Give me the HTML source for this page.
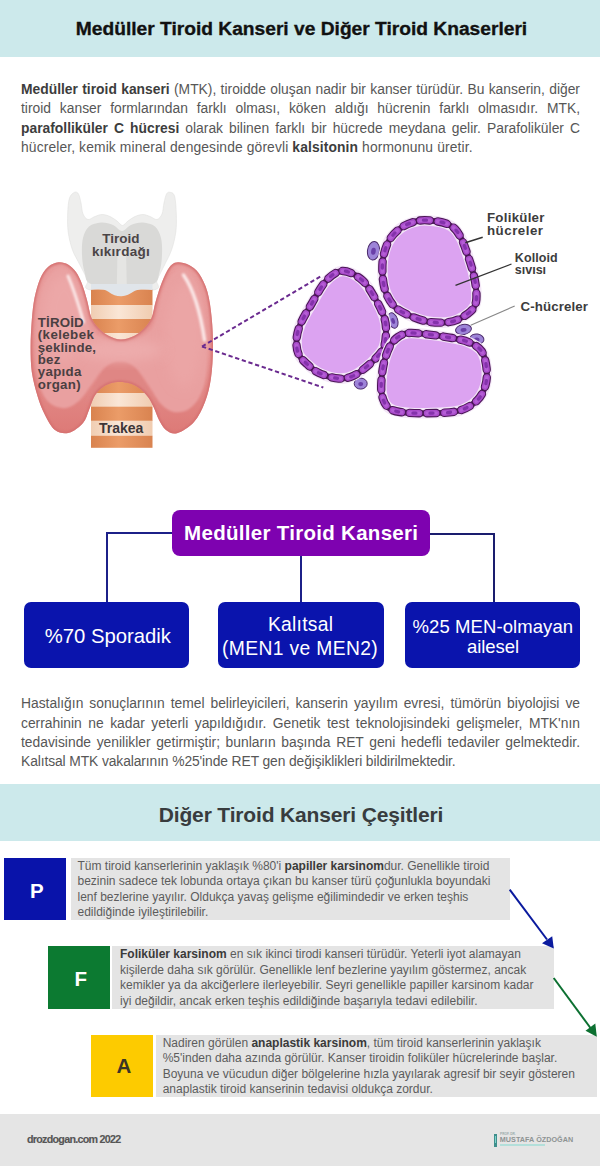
<!DOCTYPE html>
<html><head><meta charset="utf-8">
<style>
*{margin:0;padding:0;box-sizing:border-box}
html,body{width:600px;height:1166px;overflow:hidden;background:#fff}
body{position:relative;font-family:"Liberation Sans",sans-serif;color:#555}
.abs{position:absolute}
.band{position:absolute;left:0;width:600px;background:#cce9eb}
.h1{position:absolute;left:0;width:600px;text-align:center;font-weight:bold;white-space:nowrap}
.para{position:absolute;left:21px;width:559px;font-size:13.85px;color:#575757}
.para .l{display:block;height:19.35px;line-height:19.35px;white-space:nowrap;text-align:justify;text-align-last:justify}
.para .l.last{text-align-last:left}
.para b{color:#3d3d3d}
.box{position:absolute;color:#fff;text-align:center}
.lbl{position:absolute;color:#fff;line-height:1;white-space:nowrap}
.purple{background:#7e02b0;border-radius:8px;font-weight:bold}
.blue{background:#0a14ad;border-radius:7px}
.line{position:absolute;background:#1c2088}
.letter{position:absolute;color:#fff;font-weight:bold;font-size:20.5px;text-align:center}
.gbox{position:absolute;background:#e4e4e4}
.gtxt{position:absolute;font-size:12px;color:#5c5c5c}
.gtxt .l{display:block;height:15.4px;line-height:15.4px;white-space:nowrap}
.gtxt b{color:#3a3a3a}
</style></head>
<body>
<div class="band" style="top:0;height:57px"></div>
<div class="h1" style="top:16.9px;font-size:19.2px;color:#111;line-height:24px;left:1.5px;-webkit-text-stroke:0.35px #111">Medüller Tiroid Kanseri ve Diğer Tiroid Knaserleri</div>

<div class="para" style="top:79.93px">
<span class="l"><b>Medüller tiroid kanseri</b> (MTK), tiroidde oluşan nadir bir kanser türüdür. Bu kanserin, diğer</span>
<span class="l">tiroid kanser formlarından farklı olması, köken aldığı hücrenin farklı olmasıdır. MTK,</span>
<span class="l"><b>parafolliküler C hücresi</b> olarak bilinen farklı bir hücrede meydana gelir. Parafoliküler C</span>
<span class="l last" style="letter-spacing:0.118px">hücreler, kemik mineral dengesinde görevli <b>kalsitonin</b> hormonunu üretir.</span>
</div>

<!-- ILLUSTRATION -->
<svg class="abs" style="left:0;top:170px" width="600" height="300" viewBox="0 170 600 300" id="ill">
<defs>
<linearGradient id="trg" x1="0" x2="1" y1="0" y2="0">
<stop offset="0" stop-color="#d9834f"/><stop offset="0.45" stop-color="#eb9c68"/><stop offset="1" stop-color="#d98350"/></linearGradient>
<linearGradient id="trc" x1="0" x2="1" y1="0" y2="0">
<stop offset="0" stop-color="#f0cdb2"/><stop offset="0.45" stop-color="#fae6d6"/><stop offset="1" stop-color="#f0ccb0"/></linearGradient>
<radialGradient id="lobeL" cx="0.6" cy="0.45" r="0.6">
<stop offset="0" stop-color="#eea6a9"/><stop offset="0.7" stop-color="#e99a9d"/><stop offset="1" stop-color="#dc7d82"/></radialGradient>
<radialGradient id="lobeR" cx="0.4" cy="0.45" r="0.6">
<stop offset="0" stop-color="#eea6a9"/><stop offset="0.7" stop-color="#e99a9d"/><stop offset="1" stop-color="#dc7d82"/></radialGradient>
<filter id="bl" x="-20%" y="-20%" width="140%" height="140%"><feGaussianBlur stdDeviation="2.2"/></filter>
<filter id="bl1" x="-20%" y="-20%" width="140%" height="140%"><feGaussianBlur stdDeviation="0.8"/></filter>
<filter id="bl2" x="-20%" y="-20%" width="140%" height="140%"><feGaussianBlur stdDeviation="1.1"/></filter>
<filter id="bl3" x="-30%" y="-30%" width="160%" height="160%"><feGaussianBlur stdDeviation="3"/></filter>
<filter id="bl5" x="-40%" y="-40%" width="180%" height="180%"><feGaussianBlur stdDeviation="6"/></filter>
</defs>
<path d="M74.6,192.3 C76.1,191.6 77.4,192.2 78.5,194.0 C79.6,195.8 80.2,199.7 81.0,203.0 C81.8,206.3 81.8,211.2 83.0,214.0 C84.2,216.8 86.0,219.1 88.0,219.5 C90.0,219.9 92.7,217.3 95.0,216.5 C97.3,215.7 99.5,214.5 102.0,214.5 C104.5,214.5 107.5,215.4 110.0,216.5 C112.5,217.6 114.9,219.5 117.0,221.0 C119.1,222.5 120.7,225.5 122.5,225.5 C124.3,225.5 125.9,222.5 128.0,221.0 C130.1,219.5 132.5,217.6 135.0,216.5 C137.5,215.4 140.5,214.5 143.0,214.5 C145.5,214.5 147.7,215.7 150.0,216.5 C152.3,217.3 155.0,219.9 157.0,219.5 C159.0,219.1 160.8,216.8 162.0,214.0 C163.2,211.2 163.2,206.3 164.0,203.0 C164.8,199.7 165.5,195.8 166.5,194.0 C167.5,192.2 168.7,192.0 170.0,192.3 C171.3,192.6 173.4,192.4 174.5,196.0 C175.6,199.6 176.1,208.0 176.3,214.0 C176.5,220.0 176.6,226.0 175.8,232.0 C175.0,238.0 173.4,244.5 171.5,250.0 C169.6,255.5 166.9,260.0 164.5,265.0 C162.1,270.0 158.9,275.8 157.0,280.0 C155.1,284.2 164.0,288.3 153.0,290.0 C142.0,291.7 101.9,291.7 91.0,290.0 C80.1,288.3 89.3,284.2 87.5,280.0 C85.7,275.8 82.5,270.0 80.0,265.0 C77.5,260.0 74.5,255.5 72.5,250.0 C70.5,244.5 69.0,238.0 68.2,232.0 C67.4,226.0 67.5,219.7 67.7,214.0 C67.9,208.3 68.3,201.6 69.5,198.0 C70.7,194.4 73.1,193.0 74.6,192.3Z" fill="#eeeeed" stroke="#e0e0df" stroke-width="0.6"/>
<path d="M122.0,231.0 C119.0,231.0 116.5,226.4 113.0,225.0 C109.5,223.6 105.0,222.2 101.0,222.5 C97.0,222.8 92.0,223.9 89.0,226.5 C86.0,229.1 84.2,233.2 83.0,238.0 C81.8,242.8 81.8,249.3 82.0,255.0 C82.2,260.7 83.0,267.2 84.5,272.0 C86.0,276.8 84.8,281.7 91.0,284.0 C97.2,286.3 111.7,286.0 122.0,286.0 C132.3,286.0 146.8,286.3 153.0,284.0 C159.2,281.7 158.0,276.8 159.5,272.0 C161.0,267.2 161.8,260.7 162.0,255.0 C162.2,249.3 162.2,242.8 161.0,238.0 C159.8,233.2 158.0,229.1 155.0,226.5 C152.0,223.9 147.0,222.8 143.0,222.5 C139.0,222.2 134.5,223.6 131.0,225.0 C127.5,226.4 125.0,231.0 122.0,231.0Z" fill="#d9d9d7"/>
<path d="M117.5,250 L126,250 L126.8,287 L116.8,287Z" fill="#e5e5e3"/>
<rect x="91" y="289.5" width="61.5" height="15.8" fill="url(#trg)"/>
<rect x="91" y="305" width="61.5" height="14.3" fill="url(#trc)"/>
<rect x="91" y="319" width="61.5" height="14.3" fill="url(#trg)"/>
<rect x="91" y="333" width="61.5" height="13.3" fill="url(#trc)"/>
<rect x="91" y="346" width="61.5" height="36.3" fill="url(#trg)"/>
<rect x="91" y="382" width="61.5" height="11.3" fill="url(#trg)"/>
<rect x="91" y="393" width="61.5" height="14.0" fill="url(#trc)"/>
<rect x="91" y="406.7" width="61.5" height="14.3" fill="url(#trg)"/>
<rect x="91" y="420.7" width="61.5" height="15.4" fill="url(#trc)"/>
<rect x="91" y="435.8" width="61.5" height="12.0" fill="url(#trg)"/>
<path d="M91,289.8 C97,288.5 103,288.5 108,291.5 C113,295 117,296.5 121.5,296.3 C126,296.2 130,294 134.5,291 C139,288.5 146,289 152.5,290 L152.5,284 L91,284Z" fill="#e0e5ea"/>
<linearGradient id="silg" x1="0" x2="0" y1="262" y2="433" gradientUnits="userSpaceOnUse"><stop offset="0" stop-color="#e89c9c"/><stop offset="0.5" stop-color="#e69594"/><stop offset="1" stop-color="#dd7a77"/></linearGradient>
<path d="M58.5,262.3 C61.8,261.9 65.1,262.9 68.0,264.5 C70.9,266.1 73.7,268.8 76.0,272.0 C78.3,275.2 80.2,279.3 82.0,284.0 C83.8,288.7 85.4,294.3 87.0,300.0 C88.6,305.7 89.5,313.2 91.5,318.0 C93.5,322.8 96.1,325.5 99.0,328.5 C101.9,331.5 105.3,334.2 109.0,336.0 C112.7,337.8 116.8,339.5 121.0,339.5 C125.2,339.5 130.2,337.8 134.0,336.0 C137.8,334.2 141.1,331.5 144.0,328.5 C146.9,325.5 149.6,322.4 151.5,318.0 C153.4,313.6 154.0,307.3 155.5,302.0 C157.0,296.7 158.7,291.0 160.5,286.0 C162.3,281.0 164.6,275.6 166.5,272.0 C168.4,268.4 170.0,266.1 172.0,264.5 C174.0,262.9 175.7,262.2 178.5,262.3 C181.3,262.4 185.6,263.1 189.0,265.0 C192.4,266.9 195.9,269.0 199.0,273.5 C202.1,278.0 205.4,284.6 207.5,292.0 C209.6,299.4 210.8,308.7 211.7,318.0 C212.6,327.3 213.1,338.0 213.0,348.0 C212.9,358.0 212.3,369.0 211.0,378.0 C209.7,387.0 207.8,394.7 205.0,402.0 C202.2,409.3 198.7,416.8 194.0,422.0 C189.3,427.2 181.7,431.9 177.0,433.2 C172.3,434.5 169.0,432.2 166.0,430.0 C163.0,427.8 161.0,423.7 159.0,420.0 C157.0,416.3 155.8,411.8 154.0,408.0 C152.2,404.2 150.5,400.3 148.0,397.0 C145.5,393.7 142.0,390.2 139.0,388.0 C136.0,385.8 133.2,384.5 130.0,383.5 C126.8,382.5 123.3,382.0 120.0,382.0 C116.7,382.0 113.2,382.4 110.0,383.5 C106.8,384.6 103.7,386.2 101.0,388.5 C98.3,390.8 96.0,393.4 94.0,397.0 C92.0,400.6 90.8,405.7 89.0,410.0 C87.2,414.3 86.3,419.2 83.0,423.0 C79.7,426.8 73.7,431.6 69.0,432.8 C64.3,434.0 59.1,433.1 55.0,430.0 C50.9,426.9 47.4,419.7 44.5,414.0 C41.6,408.3 39.6,403.0 37.5,396.0 C35.4,389.0 33.0,380.2 31.8,372.0 C30.7,363.8 30.6,355.7 30.6,347.0 C30.6,338.3 31.2,328.2 31.8,320.0 C32.5,311.8 33.1,304.8 34.5,298.0 C35.9,291.2 37.8,284.2 40.0,279.0 C42.2,273.8 44.9,269.8 48.0,267.0 C51.1,264.2 55.2,262.7 58.5,262.3Z" fill="url(#silg)"/>
<clipPath id="silc"><path d="M58.5,262.3 C61.8,261.9 65.1,262.9 68.0,264.5 C70.9,266.1 73.7,268.8 76.0,272.0 C78.3,275.2 80.2,279.3 82.0,284.0 C83.8,288.7 85.4,294.3 87.0,300.0 C88.6,305.7 89.5,313.2 91.5,318.0 C93.5,322.8 96.1,325.5 99.0,328.5 C101.9,331.5 105.3,334.2 109.0,336.0 C112.7,337.8 116.8,339.5 121.0,339.5 C125.2,339.5 130.2,337.8 134.0,336.0 C137.8,334.2 141.1,331.5 144.0,328.5 C146.9,325.5 149.6,322.4 151.5,318.0 C153.4,313.6 154.0,307.3 155.5,302.0 C157.0,296.7 158.7,291.0 160.5,286.0 C162.3,281.0 164.6,275.6 166.5,272.0 C168.4,268.4 170.0,266.1 172.0,264.5 C174.0,262.9 175.7,262.2 178.5,262.3 C181.3,262.4 185.6,263.1 189.0,265.0 C192.4,266.9 195.9,269.0 199.0,273.5 C202.1,278.0 205.4,284.6 207.5,292.0 C209.6,299.4 210.8,308.7 211.7,318.0 C212.6,327.3 213.1,338.0 213.0,348.0 C212.9,358.0 212.3,369.0 211.0,378.0 C209.7,387.0 207.8,394.7 205.0,402.0 C202.2,409.3 198.7,416.8 194.0,422.0 C189.3,427.2 181.7,431.9 177.0,433.2 C172.3,434.5 169.0,432.2 166.0,430.0 C163.0,427.8 161.0,423.7 159.0,420.0 C157.0,416.3 155.8,411.8 154.0,408.0 C152.2,404.2 150.5,400.3 148.0,397.0 C145.5,393.7 142.0,390.2 139.0,388.0 C136.0,385.8 133.2,384.5 130.0,383.5 C126.8,382.5 123.3,382.0 120.0,382.0 C116.7,382.0 113.2,382.4 110.0,383.5 C106.8,384.6 103.7,386.2 101.0,388.5 C98.3,390.8 96.0,393.4 94.0,397.0 C92.0,400.6 90.8,405.7 89.0,410.0 C87.2,414.3 86.3,419.2 83.0,423.0 C79.7,426.8 73.7,431.6 69.0,432.8 C64.3,434.0 59.1,433.1 55.0,430.0 C50.9,426.9 47.4,419.7 44.5,414.0 C41.6,408.3 39.6,403.0 37.5,396.0 C35.4,389.0 33.0,380.2 31.8,372.0 C30.7,363.8 30.6,355.7 30.6,347.0 C30.6,338.3 31.2,328.2 31.8,320.0 C32.5,311.8 33.1,304.8 34.5,298.0 C35.9,291.2 37.8,284.2 40.0,279.0 C42.2,273.8 44.9,269.8 48.0,267.0 C51.1,264.2 55.2,262.7 58.5,262.3Z"/></clipPath>
<g clip-path="url(#silc)">
<path d="M86,404 Q104,358 120,358 Q136,358 156,404 Q138,383 120,382 Q103,383 86,404Z" fill="#df8684" filter="url(#bl1)"/>
<path d="M58.0,268.0 C61.7,266.5 65.2,269.0 68.0,271.0 C70.8,273.0 73.0,276.2 75.0,280.0 C77.0,283.8 78.5,288.7 80.0,294.0 C81.5,299.3 82.3,306.3 84.0,312.0 C85.7,317.7 86.5,323.3 90.0,328.0 C93.5,332.7 99.8,337.2 105.0,340.0 C110.2,342.8 115.7,345.0 121.0,345.0 C126.3,345.0 131.8,342.8 137.0,340.0 C142.2,337.2 148.5,332.7 152.0,328.0 C155.5,323.3 156.3,317.7 158.0,312.0 C159.7,306.3 160.3,299.3 162.0,294.0 C163.7,288.7 165.8,283.8 168.0,280.0 C170.2,276.2 172.3,273.0 175.0,271.0 C177.7,269.0 181.0,267.2 184.0,268.0 C187.0,268.8 190.3,272.0 193.0,276.0 C195.7,280.0 198.0,285.0 200.0,292.0 C202.0,299.0 203.8,308.7 205.0,318.0 C206.2,327.3 207.3,338.3 207.5,348.0 C207.7,357.7 207.2,368.0 206.0,376.0 C204.8,384.0 202.8,390.5 200.0,396.0 C197.2,401.5 193.3,406.3 189.0,409.0 C184.7,411.7 178.7,412.8 174.0,412.0 C169.3,411.2 165.2,408.3 161.0,404.0 C156.8,399.7 153.3,392.2 149.0,386.0 C144.7,379.8 139.8,371.1 135.0,367.0 C130.2,362.9 125.0,361.5 120.0,361.5 C115.0,361.5 109.7,363.2 105.0,367.0 C100.3,370.8 96.2,378.5 92.0,384.0 C87.8,389.5 84.3,396.0 80.0,400.0 C75.7,404.0 70.8,407.3 66.0,408.0 C61.2,408.7 55.0,406.7 51.0,404.0 C47.0,401.3 44.4,397.7 42.0,392.0 C39.6,386.3 37.6,377.5 36.5,370.0 C35.4,362.5 35.4,355.3 35.5,347.0 C35.6,338.7 36.2,328.2 37.0,320.0 C37.8,311.8 38.5,304.7 40.0,298.0 C41.5,291.3 43.0,285.0 46.0,280.0 C49.0,275.0 54.3,269.5 58.0,268.0Z" fill="#e9a0a0" filter="url(#bl2)"/>
<ellipse cx="64" cy="318" rx="22" ry="44" fill="#eca7a7" filter="url(#bl5)"/>
<ellipse cx="184" cy="335" rx="19" ry="52" fill="#eba5a5" filter="url(#bl5)"/>
<ellipse cx="121" cy="350" rx="42" ry="11" fill="#edacac" filter="url(#bl5)"/>
<path d="M58.5,262.3 C61.8,261.9 65.1,262.9 68.0,264.5 C70.9,266.1 73.7,268.8 76.0,272.0 C78.3,275.2 80.2,279.3 82.0,284.0 C83.8,288.7 85.4,294.3 87.0,300.0 C88.6,305.7 89.5,313.2 91.5,318.0 C93.5,322.8 96.1,325.5 99.0,328.5 C101.9,331.5 105.3,334.2 109.0,336.0 C112.7,337.8 116.8,339.5 121.0,339.5 C125.2,339.5 130.2,337.8 134.0,336.0 C137.8,334.2 141.1,331.5 144.0,328.5 C146.9,325.5 149.6,322.4 151.5,318.0 C153.4,313.6 154.0,307.3 155.5,302.0 C157.0,296.7 158.7,291.0 160.5,286.0 C162.3,281.0 164.6,275.6 166.5,272.0 C168.4,268.4 170.0,266.1 172.0,264.5 C174.0,262.9 175.7,262.2 178.5,262.3 C181.3,262.4 185.6,263.1 189.0,265.0 C192.4,266.9 195.9,269.0 199.0,273.5 C202.1,278.0 205.4,284.6 207.5,292.0 C209.6,299.4 210.8,308.7 211.7,318.0 C212.6,327.3 213.1,338.0 213.0,348.0 C212.9,358.0 212.3,369.0 211.0,378.0 C209.7,387.0 207.8,394.7 205.0,402.0 C202.2,409.3 198.7,416.8 194.0,422.0 C189.3,427.2 181.7,431.9 177.0,433.2 C172.3,434.5 169.0,432.2 166.0,430.0 C163.0,427.8 161.0,423.7 159.0,420.0 C157.0,416.3 155.8,411.8 154.0,408.0 C152.2,404.2 150.5,400.3 148.0,397.0 C145.5,393.7 142.0,390.2 139.0,388.0 C136.0,385.8 133.2,384.5 130.0,383.5 C126.8,382.5 123.3,382.0 120.0,382.0 C116.7,382.0 113.2,382.4 110.0,383.5 C106.8,384.6 103.7,386.2 101.0,388.5 C98.3,390.8 96.0,393.4 94.0,397.0 C92.0,400.6 90.8,405.7 89.0,410.0 C87.2,414.3 86.3,419.2 83.0,423.0 C79.7,426.8 73.7,431.6 69.0,432.8 C64.3,434.0 59.1,433.1 55.0,430.0 C50.9,426.9 47.4,419.7 44.5,414.0 C41.6,408.3 39.6,403.0 37.5,396.0 C35.4,389.0 33.0,380.2 31.8,372.0 C30.7,363.8 30.6,355.7 30.6,347.0 C30.6,338.3 31.2,328.2 31.8,320.0 C32.5,311.8 33.1,304.8 34.5,298.0 C35.9,291.2 37.8,284.2 40.0,279.0 C42.2,273.8 44.9,269.8 48.0,267.0 C51.1,264.2 55.2,262.7 58.5,262.3Z" fill="none" stroke="#d5706f" stroke-width="3.2" filter="url(#bl1)"/>
</g>
<path d="M68,276 Q75,292 83.5,322" stroke="#fbe8e8" stroke-width="3" fill="none" stroke-linecap="round" filter="url(#bl1)"/>
<path d="M183.5,275 Q198,296 204.5,340" stroke="#fbe8e8" stroke-width="3.4" fill="none" stroke-linecap="round" filter="url(#bl1)"/>
<text x="120.8" y="242.8" text-anchor="middle" style="font-family:&quot;Liberation Sans&quot;,sans-serif;font-weight:bold;fill:#4a4446;font-size:13.5px">Tiroid</text>
<text x="121" y="255.7" text-anchor="middle" style="font-family:&quot;Liberation Sans&quot;,sans-serif;font-weight:bold;fill:#4a4446;font-size:13.5px;letter-spacing:0.3px">kıkırdağı</text>
<g style="font-family:&quot;Liberation Sans&quot;,sans-serif;font-weight:bold;fill:#4a4446;font-size:13.3px;fill:#4a3f42">
<text x="37.8" y="326.6" style="letter-spacing:0.15px">TİROİD</text>
<text x="37.8" y="339.1" style="letter-spacing:0.4px">(kelebek</text>
<text x="37.8" y="351.5" style="letter-spacing:0.15px">şeklinde,</text>
<text x="37.8" y="364.0" style="letter-spacing:0.2px">bez</text>
<text x="37.8" y="376.4" style="letter-spacing:0.3px">yapıda</text>
<text x="37.8" y="388.9" style="letter-spacing:0.3px">organ)</text>
</g>
<text x="121.2" y="432.8" text-anchor="middle" style="font-family:&quot;Liberation Sans&quot;,sans-serif;font-weight:bold;fill:#4a4446;font-size:14px;fill:#3d3638">Trakea</text>
<path d="M202,346.5 L322.5,275.3 M202,346.5 L323.3,387.5" stroke="#6a2a8f" stroke-width="2" stroke-dasharray="4.3 2.7" fill="none"/>
<g transform="translate(373.5,250.8) rotate(8)"><ellipse rx="6" ry="9.3" fill="#9d84d8" stroke="#4a2a6a" stroke-width="1"/><ellipse cx="0" cy="0.5" rx="2.3" ry="3.5" fill="#6a3fa8"/></g>
<g transform="translate(393,320.5) rotate(-18)"><ellipse rx="4.7" ry="8" fill="#9d84d8" stroke="#4a2a6a" stroke-width="1"/><ellipse cx="0" cy="0.5" rx="1.8" ry="3.0" fill="#6a3fa8"/></g>
<g transform="translate(463.5,329.5) rotate(-10)"><ellipse rx="8" ry="5" fill="#9d84d8" stroke="#4a2a6a" stroke-width="1"/><ellipse cx="0" cy="0.5" rx="3.0" ry="1.9" fill="#6a3fa8"/></g>
<g transform="translate(477,339) rotate(10)"><ellipse rx="7" ry="5" fill="#9d84d8" stroke="#4a2a6a" stroke-width="1"/><ellipse cx="0" cy="0.5" rx="2.7" ry="1.9" fill="#6a3fa8"/></g>
<g transform="translate(360.7,383.6) rotate(0)"><ellipse rx="6.5" ry="5.5" fill="#9d84d8" stroke="#4a2a6a" stroke-width="1"/><ellipse cx="0" cy="0.5" rx="2.5" ry="2.1" fill="#6a3fa8"/></g>
<path d="M342.5,271.0 C348.5,270.8 356.4,275.2 362.0,280.0 C367.6,284.8 372.3,293.8 376.0,300.0 C379.7,306.2 382.3,311.8 384.0,317.0 C385.7,322.2 386.1,325.8 386.0,331.0 C385.9,336.2 385.8,342.8 383.5,348.0 C381.2,353.2 376.9,357.4 372.0,362.0 C367.1,366.6 359.6,372.8 354.0,375.5 C348.4,378.2 344.3,378.9 338.5,378.5 C332.7,378.1 324.2,375.4 319.0,373.0 C313.8,370.6 310.4,367.2 307.0,364.0 C303.6,360.8 300.2,358.0 298.5,354.0 C296.8,350.0 296.2,345.0 296.5,340.0 C296.8,335.0 298.0,330.0 300.5,324.0 C303.0,318.0 307.2,311.2 311.5,304.0 C315.8,296.8 320.8,286.5 326.0,281.0 C331.2,275.5 336.5,271.2 342.5,271.0Z" fill="#dca3f1" stroke="#f3e6f7" stroke-width="10.6"/>
<path d="M342.5,271.0 C348.5,270.8 356.4,275.2 362.0,280.0 C367.6,284.8 372.3,293.8 376.0,300.0 C379.7,306.2 382.3,311.8 384.0,317.0 C385.7,322.2 386.1,325.8 386.0,331.0 C385.9,336.2 385.8,342.8 383.5,348.0 C381.2,353.2 376.9,357.4 372.0,362.0 C367.1,366.6 359.6,372.8 354.0,375.5 C348.4,378.2 344.3,378.9 338.5,378.5 C332.7,378.1 324.2,375.4 319.0,373.0 C313.8,370.6 310.4,367.2 307.0,364.0 C303.6,360.8 300.2,358.0 298.5,354.0 C296.8,350.0 296.2,345.0 296.5,340.0 C296.8,335.0 298.0,330.0 300.5,324.0 C303.0,318.0 307.2,311.2 311.5,304.0 C315.8,296.8 320.8,286.5 326.0,281.0 C331.2,275.5 336.5,271.2 342.5,271.0Z" fill="none" stroke="#5a2068" stroke-width="5.9"/>
<path d="M342.5,271.0 C348.5,270.8 356.4,275.2 362.0,280.0 C367.6,284.8 372.3,293.8 376.0,300.0 C379.7,306.2 382.3,311.8 384.0,317.0 C385.7,322.2 386.1,325.8 386.0,331.0 C385.9,336.2 385.8,342.8 383.5,348.0 C381.2,353.2 376.9,357.4 372.0,362.0 C367.1,366.6 359.6,372.8 354.0,375.5 C348.4,378.2 344.3,378.9 338.5,378.5 C332.7,378.1 324.2,375.4 319.0,373.0 C313.8,370.6 310.4,367.2 307.0,364.0 C303.6,360.8 300.2,358.0 298.5,354.0 C296.8,350.0 296.2,345.0 296.5,340.0 C296.8,335.0 298.0,330.0 300.5,324.0 C303.0,318.0 307.2,311.2 311.5,304.0 C315.8,296.8 320.8,286.5 326.0,281.0 C331.2,275.5 336.5,271.2 342.5,271.0Z" fill="none" stroke="#4a1656" stroke-width="8.4" stroke-linecap="round" stroke-dasharray="9.03 7.80" stroke-dashoffset="0"/>
<path d="M342.5,271.0 C348.5,270.8 356.4,275.2 362.0,280.0 C367.6,284.8 372.3,293.8 376.0,300.0 C379.7,306.2 382.3,311.8 384.0,317.0 C385.7,322.2 386.1,325.8 386.0,331.0 C385.9,336.2 385.8,342.8 383.5,348.0 C381.2,353.2 376.9,357.4 372.0,362.0 C367.1,366.6 359.6,372.8 354.0,375.5 C348.4,378.2 344.3,378.9 338.5,378.5 C332.7,378.1 324.2,375.4 319.0,373.0 C313.8,370.6 310.4,367.2 307.0,364.0 C303.6,360.8 300.2,358.0 298.5,354.0 C296.8,350.0 296.2,345.0 296.5,340.0 C296.8,335.0 298.0,330.0 300.5,324.0 C303.0,318.0 307.2,311.2 311.5,304.0 C315.8,296.8 320.8,286.5 326.0,281.0 C331.2,275.5 336.5,271.2 342.5,271.0Z" fill="none" stroke="#a94bca" stroke-width="6.3" stroke-linecap="round" stroke-dasharray="9.03 7.80" stroke-dashoffset="0"/>
<path d="M342.5,271.0 C348.5,270.8 356.4,275.2 362.0,280.0 C367.6,284.8 372.3,293.8 376.0,300.0 C379.7,306.2 382.3,311.8 384.0,317.0 C385.7,322.2 386.1,325.8 386.0,331.0 C385.9,336.2 385.8,342.8 383.5,348.0 C381.2,353.2 376.9,357.4 372.0,362.0 C367.1,366.6 359.6,372.8 354.0,375.5 C348.4,378.2 344.3,378.9 338.5,378.5 C332.7,378.1 324.2,375.4 319.0,373.0 C313.8,370.6 310.4,367.2 307.0,364.0 C303.6,360.8 300.2,358.0 298.5,354.0 C296.8,350.0 296.2,345.0 296.5,340.0 C296.8,335.0 298.0,330.0 300.5,324.0 C303.0,318.0 307.2,311.2 311.5,304.0 C315.8,296.8 320.8,286.5 326.0,281.0 C331.2,275.5 336.5,271.2 342.5,271.0Z" fill="none" stroke="#c070e0" stroke-width="3.3" stroke-linecap="round" stroke-dasharray="9.03 7.80" stroke-dashoffset="0" transform="" opacity="0.55"/>
<path d="M342.5,271.0 C348.5,270.8 356.4,275.2 362.0,280.0 C367.6,284.8 372.3,293.8 376.0,300.0 C379.7,306.2 382.3,311.8 384.0,317.0 C385.7,322.2 386.1,325.8 386.0,331.0 C385.9,336.2 385.8,342.8 383.5,348.0 C381.2,353.2 376.9,357.4 372.0,362.0 C367.1,366.6 359.6,372.8 354.0,375.5 C348.4,378.2 344.3,378.9 338.5,378.5 C332.7,378.1 324.2,375.4 319.0,373.0 C313.8,370.6 310.4,367.2 307.0,364.0 C303.6,360.8 300.2,358.0 298.5,354.0 C296.8,350.0 296.2,345.0 296.5,340.0 C296.8,335.0 298.0,330.0 300.5,324.0 C303.0,318.0 307.2,311.2 311.5,304.0 C315.8,296.8 320.8,286.5 326.0,281.0 C331.2,275.5 336.5,271.2 342.5,271.0Z" fill="none" stroke="#7e2ea6" stroke-width="3.3" stroke-linecap="round" stroke-dasharray="3.0 13.83" stroke-dashoffset="-3.02" opacity="0.9"/>
<path d="M420.0,220.5 C425.2,219.6 429.7,220.5 434.0,221.0 C438.3,221.5 442.5,222.2 446.0,223.5 C449.5,224.8 452.3,226.2 455.0,229.0 C457.7,231.8 459.8,235.5 462.0,240.0 C464.2,244.5 466.2,250.7 468.0,256.0 C469.8,261.3 471.7,266.7 473.0,272.0 C474.3,277.3 475.5,283.0 476.0,288.0 C476.5,293.0 476.8,298.2 476.0,302.0 C475.2,305.8 474.0,308.1 471.0,311.0 C468.0,313.9 462.3,317.6 458.0,319.5 C453.7,321.4 450.2,322.2 445.0,322.5 C439.8,322.8 433.3,322.8 427.0,321.5 C420.7,320.2 412.5,317.1 407.0,314.5 C401.5,311.9 397.6,309.8 394.0,306.0 C390.4,302.2 387.4,296.8 385.5,291.5 C383.6,286.2 382.8,279.9 382.5,274.0 C382.2,268.1 382.2,261.8 383.5,256.0 C384.8,250.2 386.8,243.9 390.0,239.0 C393.2,234.1 398.0,229.6 403.0,226.5 C408.0,223.4 414.8,221.4 420.0,220.5Z" fill="#dca3f1" stroke="#f3e6f7" stroke-width="10.6"/>
<path d="M420.0,220.5 C425.2,219.6 429.7,220.5 434.0,221.0 C438.3,221.5 442.5,222.2 446.0,223.5 C449.5,224.8 452.3,226.2 455.0,229.0 C457.7,231.8 459.8,235.5 462.0,240.0 C464.2,244.5 466.2,250.7 468.0,256.0 C469.8,261.3 471.7,266.7 473.0,272.0 C474.3,277.3 475.5,283.0 476.0,288.0 C476.5,293.0 476.8,298.2 476.0,302.0 C475.2,305.8 474.0,308.1 471.0,311.0 C468.0,313.9 462.3,317.6 458.0,319.5 C453.7,321.4 450.2,322.2 445.0,322.5 C439.8,322.8 433.3,322.8 427.0,321.5 C420.7,320.2 412.5,317.1 407.0,314.5 C401.5,311.9 397.6,309.8 394.0,306.0 C390.4,302.2 387.4,296.8 385.5,291.5 C383.6,286.2 382.8,279.9 382.5,274.0 C382.2,268.1 382.2,261.8 383.5,256.0 C384.8,250.2 386.8,243.9 390.0,239.0 C393.2,234.1 398.0,229.6 403.0,226.5 C408.0,223.4 414.8,221.4 420.0,220.5Z" fill="none" stroke="#5a2068" stroke-width="5.9"/>
<path d="M420.0,220.5 C425.2,219.6 429.7,220.5 434.0,221.0 C438.3,221.5 442.5,222.2 446.0,223.5 C449.5,224.8 452.3,226.2 455.0,229.0 C457.7,231.8 459.8,235.5 462.0,240.0 C464.2,244.5 466.2,250.7 468.0,256.0 C469.8,261.3 471.7,266.7 473.0,272.0 C474.3,277.3 475.5,283.0 476.0,288.0 C476.5,293.0 476.8,298.2 476.0,302.0 C475.2,305.8 474.0,308.1 471.0,311.0 C468.0,313.9 462.3,317.6 458.0,319.5 C453.7,321.4 450.2,322.2 445.0,322.5 C439.8,322.8 433.3,322.8 427.0,321.5 C420.7,320.2 412.5,317.1 407.0,314.5 C401.5,311.9 397.6,309.8 394.0,306.0 C390.4,302.2 387.4,296.8 385.5,291.5 C383.6,286.2 382.8,279.9 382.5,274.0 C382.2,268.1 382.2,261.8 383.5,256.0 C384.8,250.2 386.8,243.9 390.0,239.0 C393.2,234.1 398.0,229.6 403.0,226.5 C408.0,223.4 414.8,221.4 420.0,220.5Z" fill="none" stroke="#4a1656" stroke-width="8.4" stroke-linecap="round" stroke-dasharray="9.76 7.80" stroke-dashoffset="0"/>
<path d="M420.0,220.5 C425.2,219.6 429.7,220.5 434.0,221.0 C438.3,221.5 442.5,222.2 446.0,223.5 C449.5,224.8 452.3,226.2 455.0,229.0 C457.7,231.8 459.8,235.5 462.0,240.0 C464.2,244.5 466.2,250.7 468.0,256.0 C469.8,261.3 471.7,266.7 473.0,272.0 C474.3,277.3 475.5,283.0 476.0,288.0 C476.5,293.0 476.8,298.2 476.0,302.0 C475.2,305.8 474.0,308.1 471.0,311.0 C468.0,313.9 462.3,317.6 458.0,319.5 C453.7,321.4 450.2,322.2 445.0,322.5 C439.8,322.8 433.3,322.8 427.0,321.5 C420.7,320.2 412.5,317.1 407.0,314.5 C401.5,311.9 397.6,309.8 394.0,306.0 C390.4,302.2 387.4,296.8 385.5,291.5 C383.6,286.2 382.8,279.9 382.5,274.0 C382.2,268.1 382.2,261.8 383.5,256.0 C384.8,250.2 386.8,243.9 390.0,239.0 C393.2,234.1 398.0,229.6 403.0,226.5 C408.0,223.4 414.8,221.4 420.0,220.5Z" fill="none" stroke="#a94bca" stroke-width="6.3" stroke-linecap="round" stroke-dasharray="9.76 7.80" stroke-dashoffset="0"/>
<path d="M420.0,220.5 C425.2,219.6 429.7,220.5 434.0,221.0 C438.3,221.5 442.5,222.2 446.0,223.5 C449.5,224.8 452.3,226.2 455.0,229.0 C457.7,231.8 459.8,235.5 462.0,240.0 C464.2,244.5 466.2,250.7 468.0,256.0 C469.8,261.3 471.7,266.7 473.0,272.0 C474.3,277.3 475.5,283.0 476.0,288.0 C476.5,293.0 476.8,298.2 476.0,302.0 C475.2,305.8 474.0,308.1 471.0,311.0 C468.0,313.9 462.3,317.6 458.0,319.5 C453.7,321.4 450.2,322.2 445.0,322.5 C439.8,322.8 433.3,322.8 427.0,321.5 C420.7,320.2 412.5,317.1 407.0,314.5 C401.5,311.9 397.6,309.8 394.0,306.0 C390.4,302.2 387.4,296.8 385.5,291.5 C383.6,286.2 382.8,279.9 382.5,274.0 C382.2,268.1 382.2,261.8 383.5,256.0 C384.8,250.2 386.8,243.9 390.0,239.0 C393.2,234.1 398.0,229.6 403.0,226.5 C408.0,223.4 414.8,221.4 420.0,220.5Z" fill="none" stroke="#c070e0" stroke-width="3.3" stroke-linecap="round" stroke-dasharray="9.76 7.80" stroke-dashoffset="0" transform="" opacity="0.55"/>
<path d="M420.0,220.5 C425.2,219.6 429.7,220.5 434.0,221.0 C438.3,221.5 442.5,222.2 446.0,223.5 C449.5,224.8 452.3,226.2 455.0,229.0 C457.7,231.8 459.8,235.5 462.0,240.0 C464.2,244.5 466.2,250.7 468.0,256.0 C469.8,261.3 471.7,266.7 473.0,272.0 C474.3,277.3 475.5,283.0 476.0,288.0 C476.5,293.0 476.8,298.2 476.0,302.0 C475.2,305.8 474.0,308.1 471.0,311.0 C468.0,313.9 462.3,317.6 458.0,319.5 C453.7,321.4 450.2,322.2 445.0,322.5 C439.8,322.8 433.3,322.8 427.0,321.5 C420.7,320.2 412.5,317.1 407.0,314.5 C401.5,311.9 397.6,309.8 394.0,306.0 C390.4,302.2 387.4,296.8 385.5,291.5 C383.6,286.2 382.8,279.9 382.5,274.0 C382.2,268.1 382.2,261.8 383.5,256.0 C384.8,250.2 386.8,243.9 390.0,239.0 C393.2,234.1 398.0,229.6 403.0,226.5 C408.0,223.4 414.8,221.4 420.0,220.5Z" fill="none" stroke="#7e2ea6" stroke-width="3.3" stroke-linecap="round" stroke-dasharray="3.0 14.56" stroke-dashoffset="-3.38" opacity="0.9"/>
<path d="M409.0,333.0 C413.8,332.6 419.8,333.5 427.0,334.3 C434.2,335.1 445.0,336.7 452.0,338.0 C459.0,339.3 464.1,340.1 469.0,342.3 C473.9,344.5 478.6,346.8 481.5,351.0 C484.4,355.2 485.8,362.0 486.5,367.7 C487.2,373.4 487.1,379.5 485.5,385.0 C483.9,390.5 481.6,396.2 477.0,400.5 C472.4,404.8 466.3,408.9 458.0,411.0 C449.7,413.1 436.7,413.0 427.0,413.2 C417.3,413.4 406.4,412.9 400.0,412.0 C393.6,411.1 391.3,409.9 388.5,407.7 C385.7,405.5 384.2,402.6 383.0,399.0 C381.8,395.4 381.1,391.7 381.2,386.0 C381.3,380.3 382.1,371.5 383.5,365.0 C384.9,358.5 387.1,351.7 389.5,347.0 C391.9,342.3 394.8,339.3 398.0,337.0 C401.2,334.7 404.2,333.4 409.0,333.0Z" fill="#dca3f1" stroke="#f3e6f7" stroke-width="10.6"/>
<path d="M409.0,333.0 C413.8,332.6 419.8,333.5 427.0,334.3 C434.2,335.1 445.0,336.7 452.0,338.0 C459.0,339.3 464.1,340.1 469.0,342.3 C473.9,344.5 478.6,346.8 481.5,351.0 C484.4,355.2 485.8,362.0 486.5,367.7 C487.2,373.4 487.1,379.5 485.5,385.0 C483.9,390.5 481.6,396.2 477.0,400.5 C472.4,404.8 466.3,408.9 458.0,411.0 C449.7,413.1 436.7,413.0 427.0,413.2 C417.3,413.4 406.4,412.9 400.0,412.0 C393.6,411.1 391.3,409.9 388.5,407.7 C385.7,405.5 384.2,402.6 383.0,399.0 C381.8,395.4 381.1,391.7 381.2,386.0 C381.3,380.3 382.1,371.5 383.5,365.0 C384.9,358.5 387.1,351.7 389.5,347.0 C391.9,342.3 394.8,339.3 398.0,337.0 C401.2,334.7 404.2,333.4 409.0,333.0Z" fill="none" stroke="#5a2068" stroke-width="5.9"/>
<path d="M409.0,333.0 C413.8,332.6 419.8,333.5 427.0,334.3 C434.2,335.1 445.0,336.7 452.0,338.0 C459.0,339.3 464.1,340.1 469.0,342.3 C473.9,344.5 478.6,346.8 481.5,351.0 C484.4,355.2 485.8,362.0 486.5,367.7 C487.2,373.4 487.1,379.5 485.5,385.0 C483.9,390.5 481.6,396.2 477.0,400.5 C472.4,404.8 466.3,408.9 458.0,411.0 C449.7,413.1 436.7,413.0 427.0,413.2 C417.3,413.4 406.4,412.9 400.0,412.0 C393.6,411.1 391.3,409.9 388.5,407.7 C385.7,405.5 384.2,402.6 383.0,399.0 C381.8,395.4 381.1,391.7 381.2,386.0 C381.3,380.3 382.1,371.5 383.5,365.0 C384.9,358.5 387.1,351.7 389.5,347.0 C391.9,342.3 394.8,339.3 398.0,337.0 C401.2,334.7 404.2,333.4 409.0,333.0Z" fill="none" stroke="#4a1656" stroke-width="8.4" stroke-linecap="round" stroke-dasharray="9.47 7.80" stroke-dashoffset="0"/>
<path d="M409.0,333.0 C413.8,332.6 419.8,333.5 427.0,334.3 C434.2,335.1 445.0,336.7 452.0,338.0 C459.0,339.3 464.1,340.1 469.0,342.3 C473.9,344.5 478.6,346.8 481.5,351.0 C484.4,355.2 485.8,362.0 486.5,367.7 C487.2,373.4 487.1,379.5 485.5,385.0 C483.9,390.5 481.6,396.2 477.0,400.5 C472.4,404.8 466.3,408.9 458.0,411.0 C449.7,413.1 436.7,413.0 427.0,413.2 C417.3,413.4 406.4,412.9 400.0,412.0 C393.6,411.1 391.3,409.9 388.5,407.7 C385.7,405.5 384.2,402.6 383.0,399.0 C381.8,395.4 381.1,391.7 381.2,386.0 C381.3,380.3 382.1,371.5 383.5,365.0 C384.9,358.5 387.1,351.7 389.5,347.0 C391.9,342.3 394.8,339.3 398.0,337.0 C401.2,334.7 404.2,333.4 409.0,333.0Z" fill="none" stroke="#a94bca" stroke-width="6.3" stroke-linecap="round" stroke-dasharray="9.47 7.80" stroke-dashoffset="0"/>
<path d="M409.0,333.0 C413.8,332.6 419.8,333.5 427.0,334.3 C434.2,335.1 445.0,336.7 452.0,338.0 C459.0,339.3 464.1,340.1 469.0,342.3 C473.9,344.5 478.6,346.8 481.5,351.0 C484.4,355.2 485.8,362.0 486.5,367.7 C487.2,373.4 487.1,379.5 485.5,385.0 C483.9,390.5 481.6,396.2 477.0,400.5 C472.4,404.8 466.3,408.9 458.0,411.0 C449.7,413.1 436.7,413.0 427.0,413.2 C417.3,413.4 406.4,412.9 400.0,412.0 C393.6,411.1 391.3,409.9 388.5,407.7 C385.7,405.5 384.2,402.6 383.0,399.0 C381.8,395.4 381.1,391.7 381.2,386.0 C381.3,380.3 382.1,371.5 383.5,365.0 C384.9,358.5 387.1,351.7 389.5,347.0 C391.9,342.3 394.8,339.3 398.0,337.0 C401.2,334.7 404.2,333.4 409.0,333.0Z" fill="none" stroke="#c070e0" stroke-width="3.3" stroke-linecap="round" stroke-dasharray="9.47 7.80" stroke-dashoffset="0" transform="" opacity="0.55"/>
<path d="M409.0,333.0 C413.8,332.6 419.8,333.5 427.0,334.3 C434.2,335.1 445.0,336.7 452.0,338.0 C459.0,339.3 464.1,340.1 469.0,342.3 C473.9,344.5 478.6,346.8 481.5,351.0 C484.4,355.2 485.8,362.0 486.5,367.7 C487.2,373.4 487.1,379.5 485.5,385.0 C483.9,390.5 481.6,396.2 477.0,400.5 C472.4,404.8 466.3,408.9 458.0,411.0 C449.7,413.1 436.7,413.0 427.0,413.2 C417.3,413.4 406.4,412.9 400.0,412.0 C393.6,411.1 391.3,409.9 388.5,407.7 C385.7,405.5 384.2,402.6 383.0,399.0 C381.8,395.4 381.1,391.7 381.2,386.0 C381.3,380.3 382.1,371.5 383.5,365.0 C384.9,358.5 387.1,351.7 389.5,347.0 C391.9,342.3 394.8,339.3 398.0,337.0 C401.2,334.7 404.2,333.4 409.0,333.0Z" fill="none" stroke="#7e2ea6" stroke-width="3.3" stroke-linecap="round" stroke-dasharray="3.0 14.27" stroke-dashoffset="-3.23" opacity="0.9"/>
<path d="M482.7,237.3 L465.3,242.7" stroke="#333" stroke-width="1.5"/>
<path d="M511.5,264 L455.5,285.3" stroke="#333" stroke-width="1.3"/>
<path d="M514.7,306 L470.7,325.3" stroke="#888" stroke-width="1.1"/>
<text x="487" y="221.9" style="font-family:&quot;Liberation Sans&quot;,sans-serif;font-weight:bold;fill:#3c3c3c;font-size:13.3px;letter-spacing:0.25px">Foliküler</text>
<text x="487" y="234.7" style="font-family:&quot;Liberation Sans&quot;,sans-serif;font-weight:bold;fill:#3c3c3c;font-size:13.3px;letter-spacing:0.5px">hücreler</text>
<text x="514.8" y="261.5" style="font-family:&quot;Liberation Sans&quot;,sans-serif;font-weight:bold;fill:#3c3c3c;font-size:12.5px;letter-spacing:0.1px">Kolloid</text>
<text x="514.8" y="273.7" style="font-family:&quot;Liberation Sans&quot;,sans-serif;font-weight:bold;fill:#3c3c3c;font-size:12.5px">sıvısı</text>
<text x="520.5" y="310.7" style="font-family:&quot;Liberation Sans&quot;,sans-serif;font-weight:bold;fill:#3c3c3c;font-size:13.3px;letter-spacing:0.1px">C-hücreler</text>
</svg>

<!-- CHART -->
<div class="line" style="left:106.3px;top:532px;width:66px;height:1.8px"></div>
<div class="line" style="left:106.3px;top:532px;width:1.8px;height:70px"></div>
<div class="line" style="left:430px;top:533px;width:64.7px;height:1.7px;background:#1a1d6e"></div>
<div class="line" style="left:492.8px;top:533px;width:1.9px;height:69px;background:#1a1d6e"></div>
<div class="line" style="left:300.3px;top:555px;width:1.8px;height:47px"></div>
<div class="box purple" style="left:172px;top:510px;width:258px;height:45.5px"></div>
<div class="box blue" style="left:24.2px;top:601.5px;width:165.3px;height:66px"></div>
<div class="box blue" style="left:218px;top:601.5px;width:165.5px;height:66px"></div>
<div class="box blue" style="left:405px;top:601.5px;width:175px;height:66px"></div>
<div class="lbl" id="t1" style="left:184.1px;top:523.25px;font-size:20.5px;font-weight:bold;letter-spacing:0.295px">Medüller Tiroid Kanseri</div>
<div class="lbl" id="t2" style="left:44.7px;top:626.1px;font-size:20.3px">%70 Sporadik</div>
<div class="lbl" id="t3" style="left:268px;top:615.06px;font-size:19.3px;letter-spacing:0.24px">Kalıtsal</div>
<div class="lbl" id="t4" style="left:222px;top:638.86px;font-size:19.3px;letter-spacing:0.36px">(MEN1 ve MEN2)</div>
<div class="lbl" id="t5" style="left:412.5px;top:617.74px;font-size:18.5px;letter-spacing:0.09px">%25 MEN-olmayan</div>
<div class="lbl" id="t6" style="left:467px;top:637.64px;font-size:18.5px;letter-spacing:-0.07px">ailesel</div>

<div class="para" style="top:694.23px">
<span class="l">Hastalığın sonuçlarının temel belirleyicileri, kanserin yayılım evresi, tümörün biyolojisi ve</span>
<span class="l">cerrahinin ne kadar yeterli yapıldığıdır. Genetik test teknolojisindeki gelişmeler, MTK'nın</span>
<span class="l">tedavisinde yenilikler getirmiştir; bunların başında RET geni hedefli tedaviler gelmektedir.</span>
<span class="l last" style="letter-spacing:-0.107px">Kalıtsal MTK vakalarının %25'inde RET gen değişiklikleri bildirilmektedir.</span>
</div>

<div class="band" style="top:784px;height:56.5px"></div>
<div class="h1" style="top:800.7px;font-size:21px;color:#383c3e;line-height:28px;letter-spacing:-0.15px;left:1px">Diğer Tiroid Kanseri Çeşitleri</div>

<!-- P -->
<div class="abs" style="left:4px;top:858px;width:62px;height:62.4px;background:#0913aa"></div>
<div class="letter" style="left:5.8px;top:879.9px;width:62px;line-height:22px">P</div>
<div class="gbox" style="left:70.8px;top:858px;width:439px;height:62.4px"></div>
<div class="gtxt" style="left:77.5px;top:859px">
<span class="l">Tüm tiroid kanserlerinin yaklaşık %80'i <b>papiller karsinom</b>dur. Genellikle tiroid</span>
<span class="l">bezinin sadece tek lobunda ortaya çıkan bu kanser türü çoğunlukla boyundaki</span>
<span class="l">lenf bezlerine yayılır. Oldukça yavaş gelişme eğilimindedir ve erken teşhis</span>
<span class="l">edildiğinde iyileştirilebilir.</span>
</div>

<!-- F -->
<div class="abs" style="left:48px;top:946px;width:62.3px;height:62.6px;background:#0c7a31"></div>
<div class="letter" style="left:49.8px;top:967.9px;width:62px;line-height:22px">F</div>
<div class="gbox" style="left:111.9px;top:946px;width:442px;height:62.6px"></div>
<div class="gtxt" style="left:120px;top:947.4px">
<span class="l"><b>Foliküler karsinom</b> en sık ikinci tirodi kanseri türüdür. Yeterli iyot alamayan</span>
<span class="l">kişilerde daha sık görülür. Genellikle lenf bezlerine yayılım göstermez, ancak</span>
<span class="l">kemikler ya da akciğerlere ilerleyebilir. Seyri genellikle papiller karsinom kadar</span>
<span class="l">iyi değildir, ancak erken teşhis edildiğinde başarıyla tedavi edilebilir.</span>
</div>

<!-- A -->
<div class="abs" style="left:91.2px;top:1035px;width:62.3px;height:61.8px;background:#fdcb00"></div>
<div class="letter" style="left:92.8px;top:1054.9px;width:62px;line-height:22px;color:#3b3526">A</div>
<div class="gbox" style="left:156px;top:1035px;width:441px;height:61.8px"></div>
<div class="gtxt" style="left:162.7px;top:1035.8px">
<span class="l">Nadiren görülen <b>anaplastik karsinom</b>, tüm tiroid kanserlerinin yaklaşık</span>
<span class="l">%5'inden daha azında görülür. Kanser tiroidin foliküler hücrelerinde başlar.</span>
<span class="l">Boyuna ve vücudun diğer bölgelerine hızla yayılarak agresif bir seyir gösteren</span>
<span class="l">anaplastik tiroid kanserinin tedavisi oldukça zordur.</span>
</div>

<!-- arrows -->
<svg class="abs" style="left:0;top:0" width="600" height="1166" viewBox="0 0 600 1166">
<line x1="509.7" y1="889.7" x2="547" y2="939.5" stroke="#0a1a9e" stroke-width="2"/>
<polygon points="553.8,948.6 542,943.2 552.2,936.3" fill="#0a1a9e"/>
<line x1="553.7" y1="978" x2="590.5" y2="1028" stroke="#0c7031" stroke-width="2"/>
<polygon points="596.8,1036.8 585.5,1030.8 595.3,1023.6" fill="#0c7031"/>
</svg>

<!-- footer -->
<div class="abs" style="left:0;top:1113.6px;width:600px;height:53px;background:#e5e5e5"></div>
<div class="abs" style="left:26.9px;top:1133.9px;font-size:10.7px;line-height:1;letter-spacing:-0.7px;font-weight:bold;color:#555;white-space:nowrap;-webkit-text-stroke:0.15px #555">drozdogan.com 2022</div>
<div class="abs" style="left:494px;top:1133.5px;width:2.6px;height:13px;background:#3f8f8c"></div>
<div class="abs" style="left:494.6px;top:1136px;width:1.4px;height:7px;background:#7fd3cb"></div>
<div class="abs" style="left:500px;top:1132.6px;font-size:3.2px;line-height:1;color:#9aa;white-space:nowrap;font-weight:bold">PROF. DR.</div>
<div class="abs" style="left:499.8px;top:1136.3px;font-size:7.2px;line-height:1;font-weight:bold;color:#8d9393;white-space:nowrap;letter-spacing:0.05px">MUSTAFA ÖZDOĞAN</div>
<div class="abs" style="left:500px;top:1143.6px;width:45px;height:2px;background:#b3dfda"></div>
</body></html>
